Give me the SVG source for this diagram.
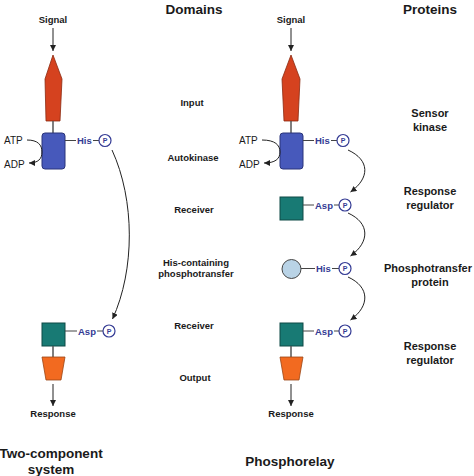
<svg xmlns="http://www.w3.org/2000/svg" width="474" height="476" viewBox="0 0 474 476">
<defs>
<style>
text{font-family:"Liberation Sans",Arial,sans-serif;fill:#1a1a1a}
.sm{font-size:9.5px;font-weight:bold;text-anchor:middle}
.hd{font-size:13.5px;font-weight:bold;text-anchor:middle}
.rl{font-size:11px;font-weight:bold;text-anchor:middle}
.nuc{font-size:10px}
.res{font-size:9.5px;font-weight:bold;fill:#343b94}
.pc{fill:#fff;stroke:#343b94;stroke-width:1.2}
.pt{font-size:7px;font-weight:bold;fill:#343b94;text-anchor:middle}
.ln{stroke:#444;stroke-width:1;fill:none}
.stem{stroke:#555;stroke-width:1.5}
.arr{stroke:#222;stroke-width:1;fill:none;marker-end:url(#ah)}
.inp{fill:#d5421f;stroke:#8a2a10;stroke-width:0.8}
.kin{fill:#4759bb;stroke:#2a347a;stroke-width:1}
.rec{fill:#187a74;stroke:#0e4a46;stroke-width:1}
.out{fill:#f26a20;stroke:#9a4514;stroke-width:0.8}
.hpt{fill:#b9d3e6;stroke:#444;stroke-width:1}
</style>
<marker id="ah" markerWidth="8" markerHeight="8" refX="6" refY="3" orient="auto" markerUnits="userSpaceOnUse">
<path d="M0,0 L6,3 L0,6 Z" fill="#222"/>
</marker>
</defs>

<g id="headers">
<text class="hd" x="194" y="14">Domains</text>
<text class="hd" x="430" y="14">Proteins</text>
</g>

<g id="domain-labels">
<text class="sm" x="192" y="105.5">Input</text>
<text class="sm" x="193" y="160.5">Autokinase</text>
<text class="sm" x="194" y="212.5">Receiver</text>
<text class="sm" x="196" y="265.5">His-containing</text>
<text class="sm" x="196" y="276.5">phosphotransfer</text>
<text class="sm" x="194" y="328.5">Receiver</text>
<text class="sm" x="195" y="380.5">Output</text>
</g>

<g id="protein-labels">
<text class="rl" x="430" y="117">Sensor</text>
<text class="rl" x="430" y="130.5">kinase</text>
<text class="rl" x="430" y="195">Response</text>
<text class="rl" x="430" y="208.5">regulator</text>
<text class="rl" x="428" y="272">Phosphotransfer</text>
<text class="rl" x="430" y="285.5">protein</text>
<text class="rl" x="430" y="350">Response</text>
<text class="rl" x="430" y="363.5">regulator</text>
</g>

<g id="titles">
<text class="hd" x="51" y="458">Two-component</text>
<text class="hd" x="51" y="474">system</text>
<text class="hd" x="290" y="466">Phosphorelay</text>
</g>

<!-- Two-component system -->
<g id="tc-signal">
<text class="sm" x="53" y="23">Signal</text>
</g>
<g id="tc-input">
<polygon class="inp" points="53,55 62,79 60,121 46,121 45,79"/>
</g>
<g id="tc-kinase">
<line class="stem" x1="53" y1="121" x2="53" y2="133"/>
<rect class="kin" x="42" y="133" width="23" height="36" rx="3"/>
<text class="nuc" x="4" y="144">ATP</text>
<text class="nuc" x="4" y="167.5">ADP</text>
<line class="ln" x1="65" y1="140.5" x2="76" y2="140.5"/>
<text class="res" x="77" y="144">His</text>
<line class="ln" x1="93" y1="140.5" x2="99" y2="140.5"/>
<circle class="pc" cx="105" cy="140.5" r="6"/>
<text class="pt" x="105" y="143">P</text>
</g>
<g id="tc-rr">
<rect class="rec" x="42" y="323" width="23" height="23"/>
<line class="ln" x1="65" y1="331" x2="77" y2="331"/>
<text class="res" x="78" y="334.5">Asp</text>
<line class="ln" x1="97" y1="331" x2="103" y2="331"/>
<circle class="pc" cx="109" cy="331" r="6"/>
<text class="pt" x="109" y="333.5">P</text>
<line class="stem" x1="53" y1="346" x2="53" y2="357"/>
<polygon class="out" points="42,357 65,357 61,380 46,380"/>
</g>
<g id="tc-response">
<text class="sm" x="53" y="417">Response</text>
</g>

<!-- Phosphorelay -->
<g id="pr-signal">
<text class="sm" x="291" y="23">Signal</text>
</g>
<g id="pr-input">
<polygon class="inp" points="291,55 300,79 298,121 284,121 282,79"/>
</g>
<g id="pr-kinase">
<line class="stem" x1="291" y1="121" x2="291" y2="133"/>
<rect class="kin" x="280" y="133" width="23" height="36" rx="3"/>
<text class="nuc" x="239" y="144">ATP</text>
<text class="nuc" x="239" y="167.5">ADP</text>
<line class="ln" x1="303" y1="140.5" x2="314" y2="140.5"/>
<text class="res" x="315" y="144">His</text>
<line class="ln" x1="331" y1="140.5" x2="337" y2="140.5"/>
<circle class="pc" cx="343" cy="140.5" r="6"/>
<text class="pt" x="343" y="143">P</text>
</g>
<g id="pr-rr1">
<rect class="rec" x="280" y="197" width="23" height="23"/>
<line class="ln" x1="303" y1="205" x2="314" y2="205"/>
<text class="res" x="315" y="208.5">Asp</text>
<line class="ln" x1="334" y1="205" x2="339" y2="205"/>
<circle class="pc" cx="345" cy="205" r="6"/>
<text class="pt" x="345" y="207.5">P</text>
</g>
<g id="pr-hpt">
<circle class="hpt" cx="291.5" cy="269" r="9.5"/>
<line class="ln" x1="301" y1="268.5" x2="315" y2="268.5"/>
<text class="res" x="316" y="272">His</text>
<line class="ln" x1="332" y1="268.5" x2="339" y2="268.5"/>
<circle class="pc" cx="345" cy="268.5" r="6"/>
<text class="pt" x="345" y="271">P</text>
</g>
<g id="pr-rr2">
<rect class="rec" x="280" y="323" width="23" height="23"/>
<line class="ln" x1="303" y1="331" x2="314" y2="331"/>
<text class="res" x="315" y="334.5">Asp</text>
<line class="ln" x1="334" y1="331" x2="339" y2="331"/>
<circle class="pc" cx="345" cy="331" r="6"/>
<text class="pt" x="345" y="333.5">P</text>
<line class="stem" x1="291" y1="346" x2="291" y2="357"/>
<polygon class="out" points="280,357 303,357 299,380 284,380"/>
</g>
<g id="pr-response">
<text class="sm" x="291" y="417">Response</text>
</g>

<g id="connectors">
<line class="arr" x1="53" y1="28" x2="53" y2="51"/>
<line class="arr" x1="291" y1="28" x2="291" y2="51"/>
<path class="arr" d="M27,140 C38,140 42,145 42,152 C42,159 38,163 29,163"/>
<path class="arr" d="M262,140 C275,140 280,145 280,152 C280,159 275,163 264,163"/>
<path class="arr" d="M112,150 C135,200 135,270 112.5,319"/>
<path class="arr" d="M348,150 C370,160 370,178 350.5,192"/>
<path class="arr" d="M348,213 C370,223 370,242 350.5,256"/>
<path class="arr" d="M348,277 C370,287 370,306 350.5,320"/>
<line class="arr" x1="53" y1="384" x2="53" y2="406"/>
<line class="arr" x1="291" y1="384" x2="291" y2="406"/>
</g>
</svg>
